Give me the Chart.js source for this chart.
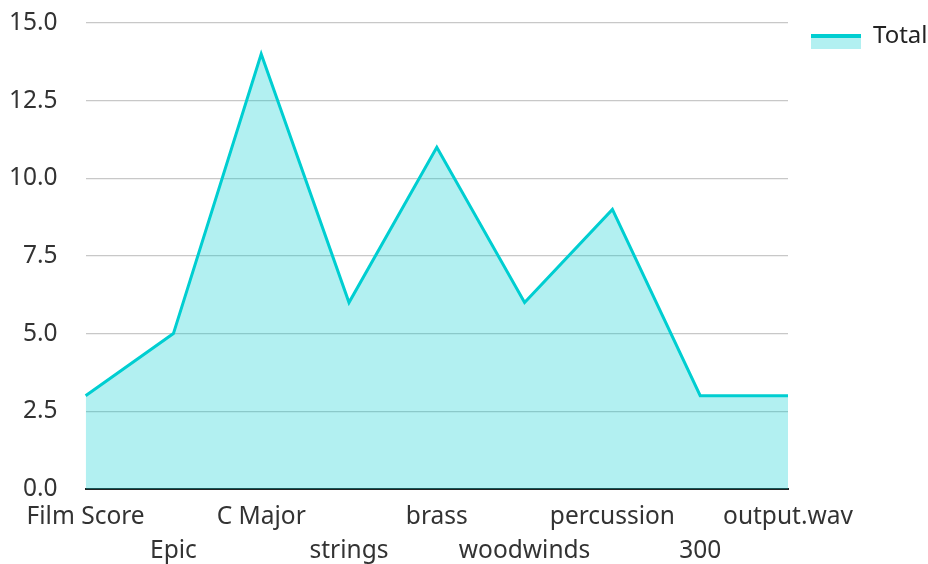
<!DOCTYPE html>
<html>
<head>
<meta charset="utf-8">
<script src="https://cdn.jsdelivr.net/npm/chart.js@4"></script>
<style>
  html, body { margin: 0; padding: 0; background: #fff; }
  #wrap { width: 928px; height: 564px; }
</style>
</head>
<body>
<div id="wrap"><canvas id="chart"></canvas></div>
<script>
// chart data
var categories = ["Film Score", "Epic", "C Major", "strings", "brass", "woodwinds", "percussion", "300", "output.wav"];
var totals = [3, 5, 14, 6, 11, 6, 9, 3, 3];
var seriesName = "Total";

var lineColor = "#00ced1";
var fillColor = "rgba(0, 206, 209, 0.3)";

// alternate labels on two rows so they don't collide
var tickLabels = categories.map(function (c, i) {
    return i % 2 === 0 ? [c, ""] : ["", c];
});

// legend swatch: empty gap on the left, then fill with a thick top line, sitting a little low
function makeSwatch() {
    var c = document.createElement("canvas");
    c.width = 72;
    c.height = 26;
    var g = c.getContext("2d");
    g.fillStyle = fillColor;
    g.fillRect(22, 11, 50, 15);
    g.fillStyle = lineColor;
    g.fillRect(22, 11, 50, 4);
    return c;
}

Chart.defaults.font.family = "'Noto Sans', 'Open Sans', sans-serif";
Chart.defaults.font.size = 24.5;
Chart.defaults.color = "#333";

var swatch = makeSwatch();

var chart = new Chart(document.getElementById("chart"), {
    type: "line",
    data: {
        labels: tickLabels,
        datasets: [{
            label: seriesName,
            data: totals,
            borderColor: lineColor,
            backgroundColor: fillColor,
            borderWidth: 3,
            fill: "origin",
            tension: 0,
            pointRadius: 0,
            pointHoverRadius: 0
        }]
    },
    options: {
        responsive: true,
        maintainAspectRatio: false,
        animation: false,
        layout: { padding: { left: 9, top: 23, right: 0, bottom: -4 } },
        plugins: {
            legend: {
                position: "right",
                align: "start",
                maxWidth: 140,
                labels: {
                    usePointStyle: true,
                    pointStyle: swatch,
                    pointStyleWidth: 72,
                    boxHeight: 15,
                    padding: 1,
                    color: "#222",
                    font: { size: 24 }
                }
            },
            tooltip: { enabled: false }
        },
        scales: {
            x: {
                offset: false,
                grid: { display: false, drawTicks: true, tickLength: 11 },
                border: { display: true, color: "#222", width: 2 },
                ticks: {
                    autoSkip: false,
                    maxRotation: 0,
                    padding: 0,
                    font: { size: 24.5, lineHeight: 1.39 }
                }
            },
            y: {
                min: 0,
                max: 15,
                ticks: {
                    stepSize: 2.5,
                    padding: 0,
                    callback: function (v) { return v.toFixed(1); }
                },
                grid: { color: "#c8c8c8", lineWidth: 1.3, drawTicks: true, tickLength: 28, tickColor: "rgba(0,0,0,0)" },
                border: { display: false }
            }
        }
    }
});
</script>
</body>
</html>
